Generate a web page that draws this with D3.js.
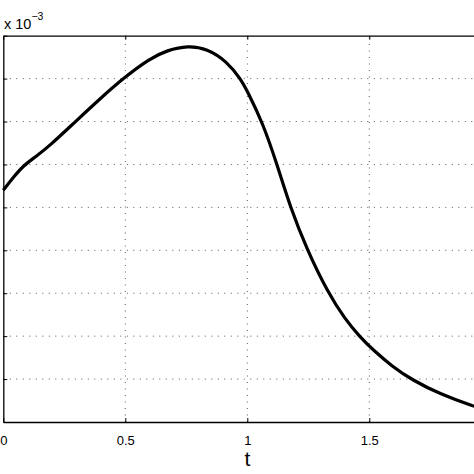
<!DOCTYPE html>
<html>
<head>
<meta charset="utf-8">
<script src="https://cdn.jsdelivr.net/npm/d3@7"></script>
<style>
  html, body { margin: 0; padding: 0; background: #fff; }
  svg { display: block; }
</style>
</head>
<body>
<svg id="chart" width="474" height="474"></svg>
<script>
// t values and y values (in units of 1e-3)
const tValues = [0, 0.041, 0.082, 0.130, 0.191, 0.294, 0.396, 0.492, 0.601, 0.671, 0.757, 0.835,
  0.917, 0.974, 1.0, 1.064, 1.122, 1.175, 1.245, 1.331, 1.400, 1.462, 1.519, 1.593, 1.675,
  1.790, 1.929, 2.0];
const yValues = [5.40, 5.70, 5.97, 6.17, 6.44, 6.99, 7.53, 8.01, 8.47, 8.66, 8.77, 8.70,
  8.40, 7.98, 7.71, 6.96, 6.0, 5.02, 4.01, 3.01, 2.40, 1.98, 1.66, 1.30, 0.98,
  0.65, 0.36, 0.25];
const xTicks = [0, 0.5, 1, 1.5, 2];
const xTickLabels = ['0', '0.5', '1', '1.5', '2'];
const yTicks = [0, 1, 2, 3, 4, 5, 6, 7, 8, 9];

const data = tValues.map((t, i) => ({ t, y: yValues[i] }));

const height = 474;
const marginTop = 35.7;
const marginBottom = 52;
const marginLeft = 3.3;
const plotWidth = 488;

const svg = d3.select('#chart');
const font = '"Liberation Sans", Arial, Helvetica, sans-serif';

const x = d3.scaleLinear()
  .domain([0, 2])
  .range([marginLeft, marginLeft + plotWidth]);

const y = d3.scaleLinear()
  .domain([0, 9])
  .range([height - marginBottom, marginTop]);

// grid
const grid = svg.append('g')
  .attr('stroke', '#555')
  .attr('stroke-width', 1)
  .attr('stroke-dasharray', '1,5.5');

grid.selectAll('.vg')
  .data(xTicks.slice(1, -1))
  .join('line')
  .attr('x1', d => x(d)).attr('x2', d => x(d))
  .attr('y1', y(0)).attr('y2', y(9));

grid.selectAll('.hg')
  .data(yTicks.slice(1, -1))
  .join('line')
  .attr('x1', x(0)).attr('x2', x(2))
  .attr('y1', d => y(d)).attr('y2', d => y(d));

// curve
const line = d3.line()
  .x(d => x(d.t))
  .y(d => y(d.y))
  .curve(d3.curveBasis);

svg.append('path')
  .datum(data)
  .attr('fill', 'none')
  .attr('stroke', '#000')
  .attr('stroke-width', 3.2)
  .attr('stroke-linejoin', 'round')
  .attr('d', line);

// axes (ticks inside, MATLAB style)
svg.append('g')
  .attr('transform', `translate(0,${y(0)})`)
  .call(d3.axisBottom(x).tickValues(xTicks)
    .tickFormat((d, i) => xTickLabels[i]).tickSizeInner(-4).tickSizeOuter(0).tickPadding(14));

svg.append('g')
  .attr('transform', `translate(0,${y(9)})`)
  .call(d3.axisTop(x).tickValues(xTicks).tickFormat('').tickSizeInner(-4).tickSizeOuter(0));

svg.append('g')
  .attr('transform', `translate(${x(0)},0)`)
  .call(d3.axisLeft(y).tickValues(yTicks).tickSizeInner(-4).tickSizeOuter(0).tickPadding(10));

svg.selectAll('.domain').attr('stroke', '#000').attr('stroke-width', 1.3);
svg.selectAll('.tick line').attr('stroke', '#000').attr('stroke-width', 1);
svg.selectAll('.tick text')
  .attr('font-family', font)
  .attr('font-size', 13)
  .attr('fill', '#000');

// labels
svg.append('text')
  .attr('x', x(1))
  .attr('y', 466)
  .attr('text-anchor', 'middle')
  .attr('font-family', font)
  .attr('font-size', 21)
  .text('t');

const expo = svg.append('text')
  .attr('x', 4)
  .attr('y', 29)
  .attr('font-family', font)
  .attr('font-size', 14.5);
expo.append('tspan').text('x 10');
expo.append('tspan')
  .attr('dy', -9)
  .attr('font-size', 10.5)
  .text('\u22123');
</script>
</body>
</html>
